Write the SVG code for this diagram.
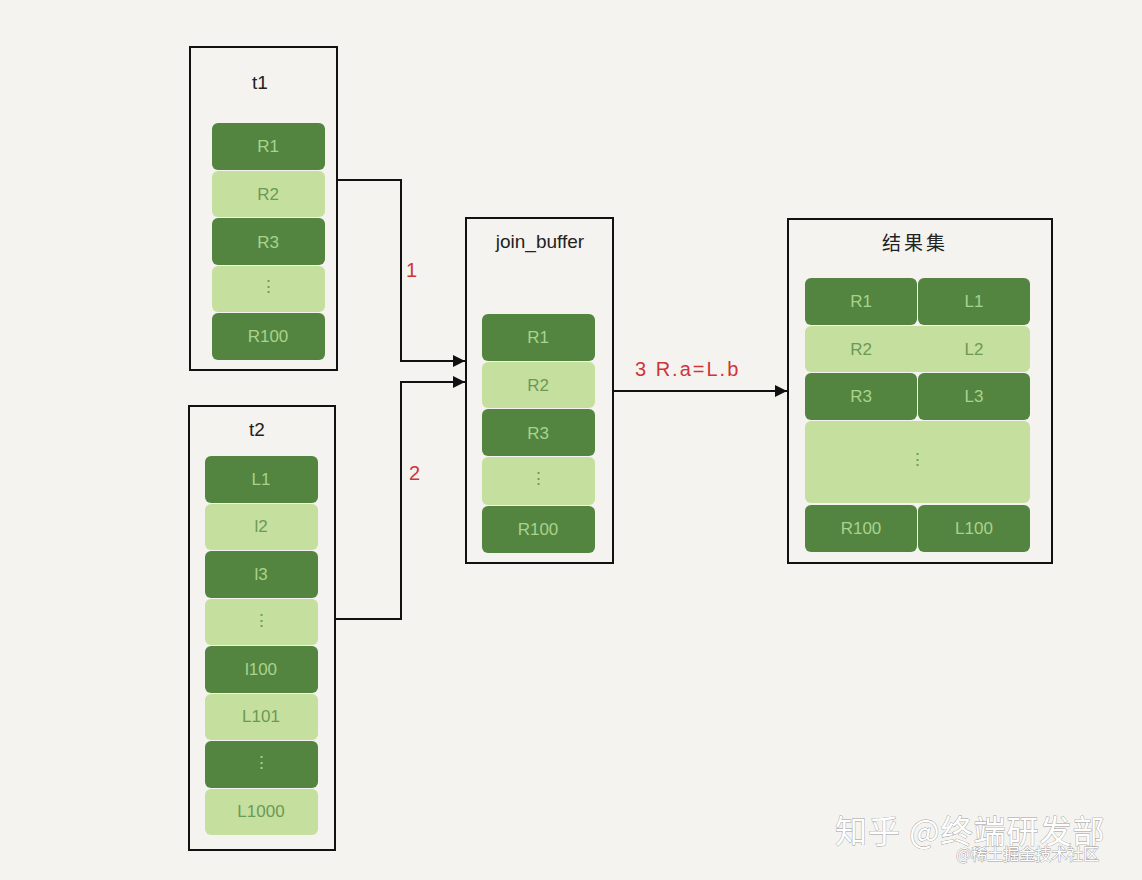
<svg xmlns="http://www.w3.org/2000/svg" width="1142" height="880" viewBox="0 0 1142 880">
<defs>
<style>
.box{fill:#f4f3ef;stroke:#111;stroke-width:2}
.dk{fill:#548540}
.lt{fill:#c5df9e}
.tdk{font-family:"Liberation Sans",sans-serif;font-size:17px;fill:#a8d38c;text-anchor:middle}
.tlt{font-family:"Liberation Sans",sans-serif;font-size:17px;fill:#6b9a56;text-anchor:middle}
.title{font-family:"Liberation Sans","Noto Sans CJK SC",sans-serif;font-size:19px;fill:#222;text-anchor:middle}
.red{font-family:"Liberation Sans",sans-serif;font-size:20px;fill:#d0343a}
.conn{fill:none;stroke:#111;stroke-width:2}
.wm{font-family:"Noto Sans CJK SC",sans-serif;fill:#ffffff;stroke:#9a9a9a;stroke-width:0.8;paint-order:stroke}
</style>
<marker id="arr" viewBox="0 0 10 10" refX="10" refY="5" markerWidth="6" markerHeight="6" orient="auto" markerUnits="strokeWidth">
<path d="M0,0 L10,5 L0,10 z" fill="#111"/>
</marker>
</defs>
<rect width="1142" height="880" fill="#f4f3ef"/>

<g id="t1">
<rect class="box" x="190" y="47" width="147" height="323"/>
<text class="title" x="260" y="89">t1</text>
<rect class="dk" x="212" y="123" width="113" height="47" rx="6"/>
<text class="tdk" x="268" y="152">R1</text>
<rect class="lt" x="212" y="171" width="113" height="46" rx="6"/>
<text class="tlt" x="268" y="200">R2</text>
<rect class="dk" x="212" y="218" width="113" height="47" rx="6"/>
<text class="tdk" x="268" y="248">R3</text>
<rect class="lt" x="212" y="266" width="113" height="46" rx="6"/>
<text class="tlt" x="268" y="292">⋮</text>
<rect class="dk" x="212" y="313" width="113" height="47" rx="6"/>
<text class="tdk" x="268" y="342">R100</text>
</g>

<g id="t2">
<rect class="box" x="189" y="406" width="146" height="444"/>
<text class="title" x="257" y="436">t2</text>
<rect class="dk" x="205" y="456" width="113" height="47" rx="6"/>
<text class="tdk" x="261" y="485">L1</text>
<rect class="lt" x="205" y="504" width="113" height="46" rx="6"/>
<text class="tlt" x="261" y="532">l2</text>
<rect class="dk" x="205" y="551" width="113" height="47" rx="6"/>
<text class="tdk" x="261" y="580">l3</text>
<rect class="lt" x="205" y="599" width="113" height="46" rx="6"/>
<text class="tlt" x="261" y="626">⋮</text>
<rect class="dk" x="205" y="646" width="113" height="47" rx="6"/>
<text class="tdk" x="261" y="675">l100</text>
<rect class="lt" x="205" y="694" width="113" height="46" rx="6"/>
<text class="tlt" x="261" y="722">L101</text>
<rect class="dk" x="205" y="741" width="113" height="47" rx="6"/>
<text class="tdk" x="261" y="768">⋮</text>
<rect class="lt" x="205" y="789" width="113" height="46" rx="6"/>
<text class="tlt" x="261" y="817">L1000</text>
</g>

<g id="join_buffer">
<rect class="box" x="466" y="218" width="147" height="345"/>
<text class="title" x="540" y="248">join_buffer</text>
<rect class="dk" x="482" y="314" width="113" height="47" rx="6"/>
<text class="tdk" x="538" y="343">R1</text>
<rect class="lt" x="482" y="362" width="113" height="46" rx="6"/>
<text class="tlt" x="538" y="391">R2</text>
<rect class="dk" x="482" y="409" width="113" height="47" rx="6"/>
<text class="tdk" x="538" y="439">R3</text>
<rect class="lt" x="482" y="457" width="113" height="48" rx="6"/>
<text class="tlt" x="538" y="484">⋮</text>
<rect class="dk" x="482" y="506" width="113" height="47" rx="6"/>
<text class="tdk" x="538" y="535">R100</text>
</g>

<g id="result">
<rect class="box" x="788" y="219" width="264" height="344"/>
<text class="title" x="915" y="250" letter-spacing="3">结果集</text>
<rect class="dk" x="805" y="278" width="112" height="47" rx="6"/>
<rect class="dk" x="918" y="278" width="112" height="47" rx="6"/>
<text class="tdk" x="861" y="307">R1</text>
<text class="tdk" x="974" y="307">L1</text>
<rect class="lt" x="805" y="326" width="225" height="46" rx="6"/>
<text class="tlt" x="861" y="355">R2</text>
<text class="tlt" x="974" y="355">L2</text>
<rect class="dk" x="805" y="373" width="112" height="47" rx="6"/>
<rect class="dk" x="918" y="373" width="112" height="47" rx="6"/>
<text class="tdk" x="861" y="402">R3</text>
<text class="tdk" x="974" y="402">L3</text>
<rect class="lt" x="805" y="421" width="225" height="82" rx="6"/>
<text class="tlt" x="917" y="465">⋮</text>
<rect class="dk" x="805" y="505" width="112" height="47" rx="6"/>
<rect class="dk" x="918" y="505" width="112" height="47" rx="6"/>
<text class="tdk" x="861" y="534">R100</text>
<text class="tdk" x="974" y="534">L100</text>
</g>

<g id="connectors">
<path class="conn" d="M337,180 H401 V361 H465" marker-end="url(#arr)"/>
<path class="conn" d="M335,619 H401 V382 H465" marker-end="url(#arr)"/>
<path class="conn" d="M613,391 H787" marker-end="url(#arr)"/>
<text class="red" x="406" y="277">1</text>
<text class="red" x="409" y="480">2</text>
<text class="red" x="635" y="376" letter-spacing="2">3 R.a=L.b</text>
</g>

<g id="watermark">
<text class="wm" x="835" y="843" font-size="32" letter-spacing="1">知乎 @终端研发部</text>
<text class="wm" x="956" y="860" font-size="16">@稀土掘金技术社区</text>
</g>
</svg>
